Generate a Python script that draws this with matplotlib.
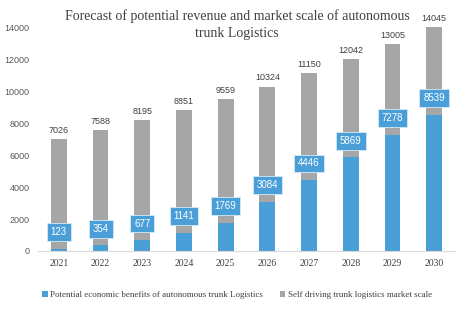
import matplotlib

matplotlib.use("Agg")
import matplotlib.pyplot as plt
import numpy as np

years = ["2021", "2022", "2023", "2024", "2025", "2026", "2027", "2028", "2029", "2030"]
market_scale = [7026, 7588, 8195, 8851, 9559, 10324, 11150, 12042, 13005, 14045]
econ_benefit = [123, 354, 677, 1141, 1769, 3084, 4446, 5869, 7278, 8539]
yticks = [0, 2000, 4000, 6000, 8000, 10000, 12000, 14000]

BLUE = "#4a9fd8"
GRAY = "#a6a6a6"
SERIF = "Liberation Serif"
SANS = "Liberation Sans"

fig = plt.figure(figsize=(4.74, 3.10), dpi=100)
ax = fig.add_axes([38 / 474, 59 / 310, 417 / 474, 239 / 310])

x = np.arange(len(years))
w = 0.38
ax.bar(x, market_scale, w, color=GRAY, label="Self driving trunk logistics market scale", zorder=1)
ax.bar(x, econ_benefit, w, color=BLUE, label="Potential economic benefits of autonomous trunk Logistics", zorder=2)

for xi, v in zip(x, market_scale):
    ax.annotate(f"{v}", (xi, v), xytext=(0, 3), textcoords="offset points",
                ha="center", va="bottom", fontsize=6.5, family=SANS, color="#404040")
for xi, v in zip(x, econ_benefit):
    ax.annotate(f"{v}", (xi, v), xytext=(0, 12), textcoords="offset points",
                ha="center", va="center", fontsize=7, family=SANS, color="white", zorder=4,
                bbox=dict(boxstyle="square,pad=0.4", fc=BLUE, ec="#d6e9f6", lw=0.6))

ax.set_xlim(-0.5, len(years) - 0.5)
ax.set_ylim(0, 15000)
ax.set_xticks(x)
ax.set_xticklabels(years, family=SERIF, fontsize=7, color="#404040")
ax.set_yticks(yticks)
ax.set_yticklabels([str(t) for t in yticks], family=SANS, fontsize=6.5, color="#595959")
ax.tick_params(length=0, pad=6)
for s in ("top", "right", "left"):
    ax.spines[s].set_visible(False)
ax.spines["bottom"].set_color("#d9d9d9")

# 标题分两行写，免得整块包围盒压到右上角的数值标签
fig.text(0.5, 1 - 16 / 310, "Forecast of potential revenue and market scale of autonomous",
         ha="center", va="center", family=SERIF, fontsize=10, color="#404040")
fig.text(0.5, 1 - 33 / 310, "trunk Logistics",
         ha="center", va="center", family=SERIF, fontsize=10, color="#404040")

h, l = ax.get_legend_handles_labels()
fig.legend(h[::-1], l[::-1], loc="center", bbox_to_anchor=(0.5, 15 / 310), ncol=2, frameon=False,
           prop={"family": SERIF, "size": 6.5}, handlelength=0.6, handleheight=0.6,
           handletextpad=0.3, columnspacing=1.8, labelcolor="#404040")

fig.savefig("out.png", dpi=100, facecolor="white")
